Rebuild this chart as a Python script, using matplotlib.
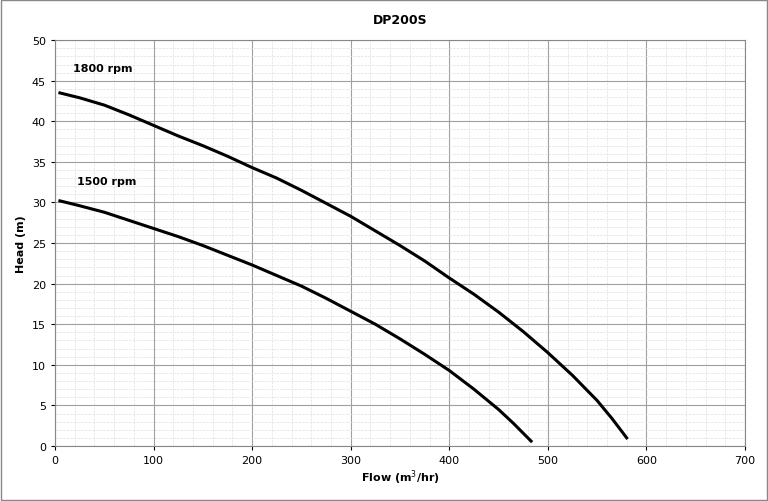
import matplotlib.pyplot as plt
from matplotlib.ticker import MultipleLocator

flow_1800 = [5, 25, 50, 75, 100, 125, 150, 175, 200, 225, 250, 275, 300, 325, 350, 375, 400, 425, 450, 475, 500, 525, 550, 565, 580]
head_1800 = [43.5, 42.9, 42.0, 40.8, 39.5, 38.2, 37.0, 35.7, 34.3, 33.0, 31.5, 29.9, 28.3, 26.5, 24.7, 22.8, 20.7, 18.7, 16.5, 14.1, 11.5, 8.7, 5.6, 3.4, 1.0]
flow_1500 = [5, 25, 50, 75, 100, 125, 150, 175, 200, 225, 250, 275, 300, 325, 350, 375, 400, 425, 450, 465, 483]
head_1500 = [30.2, 29.6, 28.8, 27.8, 26.8, 25.8, 24.7, 23.5, 22.3, 21.0, 19.7, 18.2, 16.6, 15.0, 13.2, 11.3, 9.3, 7.0, 4.5, 2.8, 0.6]

plt.rcParams['font.family'] = ['DejaVu Sans']
fig = plt.figure(figsize=(7.68, 5.02), dpi=100)
fig.patches.append(plt.Rectangle((0.001, 0.001), 0.998, 0.997, transform=fig.transFigure,
                                 fill=False, edgecolor='#888888', lw=1))
ax = fig.add_axes([0.0716, 0.1096, 0.8984, 0.8084])
ax.set_xlim(0, 700)
ax.set_ylim(0, 50)
ax.xaxis.set_major_locator(MultipleLocator(100))
ax.xaxis.set_minor_locator(MultipleLocator(20))
ax.yaxis.set_major_locator(MultipleLocator(5))
ax.yaxis.set_minor_locator(MultipleLocator(1))
ax.grid(which='minor', color='#e0e0e0', ls='--', lw=0.5)
ax.grid(which='major', color='#a0a0a0', ls='-', lw=0.8)
ax.set_axisbelow(True)
for s in ax.spines.values():
    s.set_color('#888888')
ax.tick_params(labelsize=8, which='both', length=0)
ax.tick_params(which='major', length=3)

ax.plot(flow_1800, head_1800, color='black', lw=2.2, solid_joinstyle='round')
ax.plot(flow_1500, head_1500, color='black', lw=2.2, solid_joinstyle='round')
ax.text(18, 46.2, '1800 rpm', fontsize=8, fontweight='bold')
ax.text(22, 32.3, '1500 rpm', fontsize=8, fontweight='bold')

ax.set_title('DP200S', fontsize=9, fontweight='bold', pad=12)
ax.set_xlabel('Flow (m$^3$/hr)', fontsize=8, fontweight='bold', labelpad=2)
ax.set_ylabel('Head (m)', fontsize=8, fontweight='bold')
fig.savefig('out.png', dpi=100)
